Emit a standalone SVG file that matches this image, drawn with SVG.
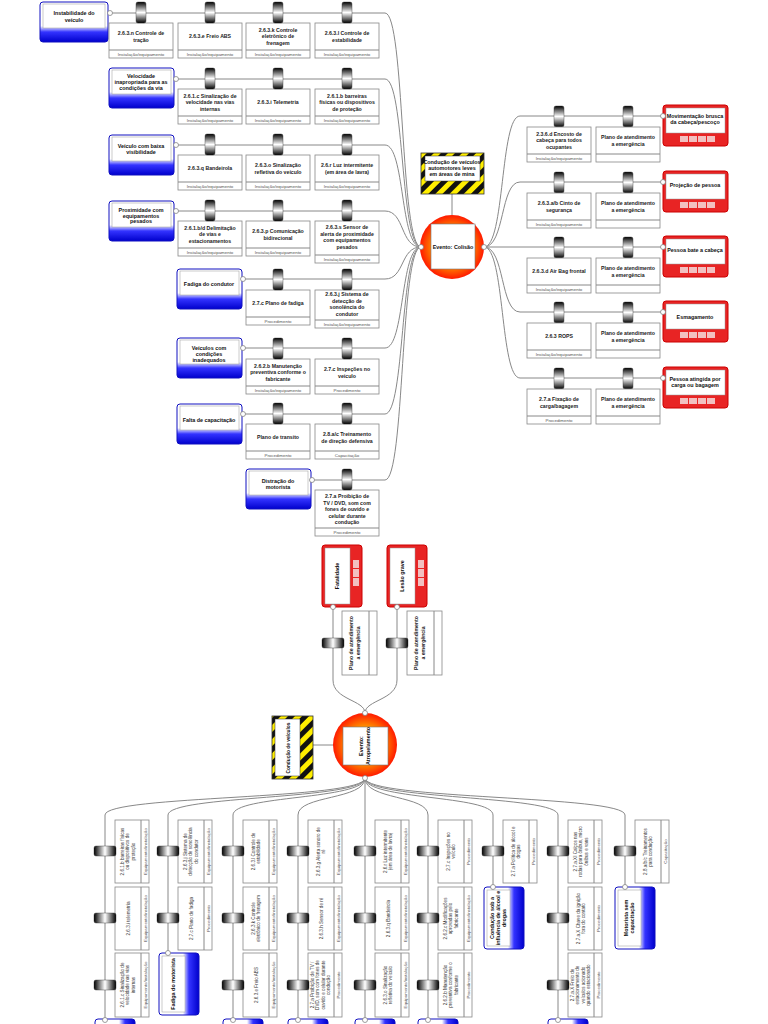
<svg xmlns="http://www.w3.org/2000/svg" xmlns:xlink="http://www.w3.org/1999/xlink" width="768" height="1024" viewBox="0 0 768 1024">
<style>
text{font-family:"Liberation Sans",Arial,sans-serif;}
.bt{font-size:5.2px;font-weight:bold;text-anchor:middle;fill:#222}
.rt{font-size:4.6px;text-anchor:middle;fill:#333}
.st{font-size:4.4px;text-anchor:middle;fill:#555}
.ct{font-size:5.4px;font-weight:bold;text-anchor:middle;fill:#111}
.box{fill:#fff;stroke:#888;stroke-width:0.8}
.ln{fill:none;stroke:#888;stroke-width:1}
.port{fill:#fff;stroke:#777;stroke-width:0.7}
.blue{fill:url(#gb);stroke:#1010c0;stroke-width:1}
.blueh{fill:url(#gbh);stroke:#1010c0;stroke-width:1}
.red{fill:#e82424;stroke:#c00;stroke-width:1}
.sq{fill:#f2c0c0}
.wi{fill:#fff;stroke:#999;stroke-width:0.5}
</style>
<defs>
<linearGradient id="gk" x1="0" y1="0" x2="0" y2="1"><stop offset="0" stop-color="#000"/><stop offset="0.5" stop-color="#fff"/><stop offset="1" stop-color="#000"/></linearGradient>
<linearGradient id="gkh" x1="0" y1="0" x2="1" y2="0"><stop offset="0" stop-color="#000"/><stop offset="0.5" stop-color="#fff"/><stop offset="1" stop-color="#000"/></linearGradient>
<linearGradient id="gb" x1="0" y1="0" x2="0" y2="1"><stop offset="0" stop-color="#fff"/><stop offset="0.6" stop-color="#fff"/><stop offset="0.75" stop-color="#3333ff"/><stop offset="1" stop-color="#0000cc"/></linearGradient>
<linearGradient id="gbh" x1="0" y1="0" x2="1" y2="0"><stop offset="0" stop-color="#fff"/><stop offset="0.6" stop-color="#fff"/><stop offset="0.75" stop-color="#3333ff"/><stop offset="1" stop-color="#0000cc"/></linearGradient>
<radialGradient id="gc"><stop offset="0" stop-color="#ffd000"/><stop offset="0.6" stop-color="#ff8a00"/><stop offset="1" stop-color="#ff1a00"/></radialGradient>
<pattern id="hz" width="10" height="10" patternUnits="userSpaceOnUse" patternTransform="rotate(45)"><rect width="10" height="10" fill="#ffee00"/><rect width="5" height="10" fill="#111"/></pattern>
<rect id="kv" x="-5" y="-10" width="10" height="21" rx="2" fill="url(#gk)" stroke="#333" stroke-width="0.4"/>
<rect id="kh" x="-11" y="-5" width="22" height="10" rx="2" fill="url(#gkh)" stroke="#333" stroke-width="0.4"/>
</defs>

<g id="connectors">
<path class="ln" d="M110,13 H385 C405,13 400,247 421,247"/>
<path class="ln" d="M176,79 H385 C405,79 400,247 421,247"/>
<path class="ln" d="M176,145 H385 C405,145 400,247 421,247"/>
<path class="ln" d="M176,211 H385 C405,211 400,247 421,247"/>
<path class="ln" d="M243,279 H385 C405,279 400,247 421,247"/>
<path class="ln" d="M243,348 H385 C405,348 400,247 421,247"/>
<path class="ln" d="M243,414 H385 C405,414 400,247 421,247"/>
<path class="ln" d="M312,480 H385 C405,480 400,247 421,247"/>
<path class="ln" d="M452,194 V215"/>
<path class="ln" d="M484,247 C505,247 500,116 520,116 H663"/>
<path class="ln" d="M484,247 C505,247 500,182 520,182 H663"/>
<path class="ln" d="M484,247 H663"/>
<path class="ln" d="M484,247 C505,247 500,312 520,312 H663"/>
<path class="ln" d="M484,247 C505,247 500,378 520,378 H663"/>
<path class="ln" d="M333,607 V680 C333,700 365,700 365,713"/>
<path class="ln" d="M397,607 V680 C397,700 365,700 365,713"/>
<path class="ln" d="M313,745 H334"/>
<path class="ln" d="M365,778 C365,800 105,795 105,815 V1020"/>
<path class="ln" d="M365,778 C365,800 168,795 168,815 V953"/>
<path class="ln" d="M365,778 C365,800 233,795 233,815 V1020"/>
<path class="ln" d="M365,778 C365,800 298,795 298,815 V1020"/>
<path class="ln" d="M365,778 V1020"/>
<path class="ln" d="M365,778 C365,800 428,795 428,815 V1020"/>
<path class="ln" d="M365,778 C365,800 493,795 493,815 V887"/>
<path class="ln" d="M365,778 C365,800 558,795 558,815 V1020"/>
<path class="ln" d="M365,778 C365,800 625,795 625,815 V887"/>
</g>

<g id="cause1"><rect class="blue" x="40" y="2" width="68" height="40" rx="3"/><rect class="wi" x="43" y="4" width="62" height="24"/><text class="ct" x="74" y="15">Instabilidade do</text><text class="ct" x="74" y="21.5">veículo</text></g>
<g id="cause2"><rect class="blue" x="109" y="68" width="65" height="40" rx="3"/><rect class="wi" x="112" y="70" width="59" height="24"/><text class="ct" x="141" y="78">Velocidade</text><text class="ct" x="141" y="84">inapropriada para as</text><text class="ct" x="141" y="90">condições da via</text></g>
<g id="cause3"><rect class="blue" x="109" y="135" width="65" height="40" rx="3"/><rect class="wi" x="112" y="137" width="59" height="24"/><text class="ct" x="141" y="148">Veículo com baixa</text><text class="ct" x="141" y="154">visibilidade</text></g>
<g id="cause4"><rect class="blue" x="109" y="201" width="65" height="40" rx="3"/><rect class="wi" x="112" y="203" width="59" height="24"/><text class="ct" x="141" y="212">Proximidade com</text><text class="ct" x="141" y="217.5">equipamentos</text><text class="ct" x="141" y="223">pesados</text></g>
<g id="cause5"><rect class="blue" x="177" y="269" width="65" height="40" rx="3"/><rect class="wi" x="180" y="271" width="59" height="24"/><text class="ct" x="209" y="286">Fadiga do condutor</text></g>
<g id="cause6"><rect class="blue" x="177" y="338" width="65" height="40" rx="3"/><rect class="wi" x="180" y="340" width="59" height="24"/><text class="ct" x="209" y="350">Veículos com</text><text class="ct" x="209" y="356">condições</text><text class="ct" x="209" y="362">inadequados</text></g>
<g id="cause7"><rect class="blue" x="177" y="404" width="65" height="40" rx="3"/><rect class="wi" x="180" y="406" width="59" height="24"/><text class="ct" x="209" y="422">Falta de capacitação</text></g>
<g id="cause8"><rect class="blue" x="246" y="469" width="65" height="40" rx="3"/><rect class="wi" x="249" y="471" width="59" height="24"/><text class="ct" x="278" y="483">Distração do</text><text class="ct" x="278" y="489">motorista</text></g>

<g id="top-barriers">
<g id="b11"><rect class="box" x="109" y="23" width="64" height="35"/><line class="ln" x1="109" y1="50" x2="173" y2="50"/><text class="bt" x="141" y="35"><tspan x="141">2.6.3.n Controle de</tspan><tspan x="141" dy="6.5">tração</tspan></text><text class="st" x="141" y="56">Instalação/equipamento</text></g>
<g id="b12"><rect class="box" x="178" y="23" width="64" height="35"/><line class="ln" x1="178" y1="50" x2="242" y2="50"/><text class="bt" x="210" y="38.3">2.6.3.e Freio ABS</text><text class="st" x="210" y="56">Instalação/equipamento</text></g>
<g id="b13"><rect class="box" x="246" y="23" width="64" height="35"/><line class="ln" x1="246" y1="50" x2="310" y2="50"/><text class="bt" x="278" y="31.8"><tspan x="278">2.6.3.k Controle</tspan><tspan x="278" dy="6.5">eletrônico de</tspan><tspan x="278" dy="6.5">frenagem</tspan></text><text class="st" x="278" y="56">Instalação/equipamento</text></g>
<g id="b14"><rect class="box" x="315" y="23" width="64" height="35"/><line class="ln" x1="315" y1="50" x2="379" y2="50"/><text class="bt" x="347" y="35"><tspan x="347">2.6.3.l Controle de</tspan><tspan x="347" dy="6.5">estabilidade</tspan></text><text class="st" x="347" y="56">Instalação/equipamento</text></g>

<g id="b21"><rect class="box" x="178" y="89" width="64" height="35"/><line class="ln" x1="178" y1="116" x2="242" y2="116"/><text class="bt" x="210" y="97.8"><tspan x="210">2.6.1.c Sinalização de</tspan><tspan x="210" dy="6.5">velocidade nas vias</tspan><tspan x="210" dy="6.5">internas</tspan></text><text class="st" x="210" y="122">Instalação/equipamento</text></g>
<g id="b22"><rect class="box" x="246" y="89" width="64" height="35"/><line class="ln" x1="246" y1="116" x2="310" y2="116"/><text class="bt" x="278" y="104.3">2.6.3.i Telemetria</text><text class="st" x="278" y="122">Instalação/equipamento</text></g>
<g id="b23"><rect class="box" x="315" y="89" width="64" height="35"/><line class="ln" x1="315" y1="116" x2="379" y2="116"/><text class="bt" x="347" y="97.8"><tspan x="347">2.6.1.b barreiras</tspan><tspan x="347" dy="6.5">físicas ou dispositivos</tspan><tspan x="347" dy="6.5">de proteção</tspan></text><text class="st" x="347" y="122">Instalação/equipamento</text></g>

<g id="b31"><rect class="box" x="178" y="155" width="64" height="35"/><line class="ln" x1="178" y1="182" x2="242" y2="182"/><text class="bt" x="210" y="170.3">2.6.3.q Bandeirola</text><text class="st" x="210" y="188">Instalação/equipamento</text></g>
<g id="b32"><rect class="box" x="246" y="155" width="64" height="35"/><line class="ln" x1="246" y1="182" x2="310" y2="182"/><text class="bt" x="278" y="167"><tspan x="278">2.6.3.o Sinalização</tspan><tspan x="278" dy="6.5">refletiva do veículo</tspan></text><text class="st" x="278" y="188">Instalação/equipamento</text></g>
<g id="b33"><rect class="box" x="315" y="155" width="64" height="35"/><line class="ln" x1="315" y1="182" x2="379" y2="182"/><text class="bt" x="347" y="167"><tspan x="347">2.6.r Luz intermitente</tspan><tspan x="347" dy="6.5">(em área de lavra)</tspan></text><text class="st" x="347" y="188">Instalação/equipamento</text></g>

<g id="b41"><rect class="box" x="178" y="221" width="64" height="35"/><line class="ln" x1="178" y1="248" x2="242" y2="248"/><text class="bt" x="210" y="229.8"><tspan x="210">2.6.1.b/d Delimitação</tspan><tspan x="210" dy="6.5">de vias e</tspan><tspan x="210" dy="6.5">estacionamentos</tspan></text><text class="st" x="210" y="254">Instalação/equipamento</text></g>
<g id="b42"><rect class="box" x="246" y="221" width="64" height="35"/><line class="ln" x1="246" y1="248" x2="310" y2="248"/><text class="bt" x="278" y="233"><tspan x="278">2.6.3.p Comunicação</tspan><tspan x="278" dy="6.5">bidirecional</tspan></text><text class="st" x="278" y="254">Instalação/equipamento</text></g>
<g id="b43"><rect class="box" x="315" y="221" width="64" height="42"/><line class="ln" x1="315" y1="255" x2="379" y2="255"/><text class="bt" x="347" y="229"><tspan x="347">2.6.3.s  Sensor de</tspan><tspan x="347" dy="6.5">alerta de proximidade</tspan><tspan x="347" dy="6.5">com equipamentos</tspan><tspan x="347" dy="6.5">pesados</tspan></text><text class="st" x="347" y="261">Instalação/equipamento</text></g>

<g id="b51"><rect class="box" x="246" y="290" width="64" height="35"/><line class="ln" x1="246" y1="317" x2="310" y2="317"/><text class="bt" x="278" y="305.3">2.7.c Plano de fadiga</text><text class="st" x="278" y="323">Procedimento</text></g>
<g id="b52"><rect class="box" x="315" y="290" width="64" height="38"/><line class="ln" x1="315" y1="320" x2="379" y2="320"/><text class="bt" x="347" y="296"><tspan x="347">2.6.3.j Sistema de</tspan><tspan x="347" dy="6.5">detecção de</tspan><tspan x="347" dy="6.5">sonolência do</tspan><tspan x="347" dy="6.5">condutor</tspan></text><text class="st" x="347" y="326">Instalação/equipamento</text></g>

<g id="b61"><rect class="box" x="246" y="359" width="64" height="35"/><line class="ln" x1="246" y1="386" x2="310" y2="386"/><text class="bt" x="278" y="367.8"><tspan x="278">2.6.2.b Manutenção</tspan><tspan x="278" dy="6.5">preventiva conforme o</tspan><tspan x="278" dy="6.5">fabricante</tspan></text><text class="st" x="278" y="392">Instalação/equipamento</text></g>
<g id="b62"><rect class="box" x="315" y="359" width="64" height="35"/><line class="ln" x1="315" y1="386" x2="379" y2="386"/><text class="bt" x="347" y="371"><tspan x="347">2.7.c Inspeções no</tspan><tspan x="347" dy="6.5">veículo</tspan></text><text class="st" x="347" y="392">Procedimento</text></g>

<g id="b71"><rect class="box" x="246" y="424" width="64" height="35"/><line class="ln" x1="246" y1="451" x2="310" y2="451"/><text class="bt" x="278" y="439.3">Plano de transito</text><text class="st" x="278" y="457">Procedimento</text></g>
<g id="b72"><rect class="box" x="315" y="424" width="64" height="35"/><line class="ln" x1="315" y1="451" x2="379" y2="451"/><text class="bt" x="347" y="436"><tspan x="347">2.8.a/c Treinamento</tspan><tspan x="347" dy="6.5">de direção defensiva</tspan></text><text class="st" x="347" y="457">Capacitação</text></g>

<g id="b81"><rect class="box" x="315" y="490" width="64" height="46"/><line class="ln" x1="315" y1="528" x2="379" y2="528"/><text class="bt" x="347" y="498"><tspan x="347">2.7.a Proibição de</tspan><tspan x="347" dy="6.5">TV / DVD, som com</tspan><tspan x="347" dy="6.5">fones de ouvido e</tspan><tspan x="347" dy="6.5">celular durante</tspan><tspan x="347" dy="6.5">condução</tspan></text><text class="st" x="347" y="534">Procedimento</text></g>
</g>

<g id="top-knobs">
<use href="#kv" x="141" y="12"/><use href="#kv" x="210" y="12"/><use href="#kv" x="278" y="12"/><use href="#kv" x="347" y="12"/>
<use href="#kv" x="210" y="78"/><use href="#kv" x="278" y="78"/><use href="#kv" x="347" y="78"/>
<use href="#kv" x="210" y="144"/><use href="#kv" x="278" y="144"/><use href="#kv" x="347" y="144"/>
<use href="#kv" x="210" y="210"/><use href="#kv" x="278" y="210"/><use href="#kv" x="347" y="210"/>
<use href="#kv" x="278" y="279"/><use href="#kv" x="347" y="279"/>
<use href="#kv" x="278" y="348"/><use href="#kv" x="347" y="348"/>
<use href="#kv" x="278" y="413"/><use href="#kv" x="347" y="413"/>
<use href="#kv" x="347" y="479"/>
<use href="#kv" x="559" y="116"/><use href="#kv" x="628" y="116"/>
<use href="#kv" x="559" y="182"/><use href="#kv" x="628" y="182"/>
<use href="#kv" x="559" y="247"/><use href="#kv" x="628" y="247"/>
<use href="#kv" x="559" y="312"/><use href="#kv" x="628" y="312"/>
<use href="#kv" x="559" y="378"/><use href="#kv" x="628" y="378"/>
</g>

<g id="hazard1"><rect x="421" y="153" width="63" height="41" fill="url(#hz)" stroke="#333" stroke-width="0.8"/><rect x="425" y="156" width="55" height="25" fill="#fff" stroke="#333" stroke-width="0.5"/><text class="ct" x="452" y="164">Condução de veículos</text><text class="ct" x="452" y="170">automotores leves</text><text class="ct" x="452" y="176">em áreas de mina</text></g>
<g id="event1"><circle cx="452" cy="247" r="32" fill="url(#gc)"/><rect x="431" y="224" width="44" height="45" fill="#fff" stroke="#777" stroke-width="0.6"/><text class="ct" x="453" y="249">Evento: Colisão</text></g>

<g id="right-barriers">
<g><rect class="box" x="527" y="127" width="64" height="35"/><line class="ln" x1="527" y1="154" x2="591" y2="154"/><text class="bt" x="559" y="135.8"><tspan x="559">2.3.6.d Encosto de</tspan><tspan x="559" dy="6.5">cabeça para todos</tspan><tspan x="559" dy="6.5">ocupantes</tspan></text><text class="st" x="559" y="160">Instalação/equipamento</text></g>
<g><rect class="box" x="527" y="193" width="64" height="35"/><line class="ln" x1="527" y1="220" x2="591" y2="220"/><text class="bt" x="559" y="205"><tspan x="559">2.6.3.a/b Cinto de</tspan><tspan x="559" dy="6.5">segurança</tspan></text><text class="st" x="559" y="226">Instalação/equipamento</text></g>
<g><rect class="box" x="527" y="258" width="64" height="35"/><line class="ln" x1="527" y1="285" x2="591" y2="285"/><text class="bt" x="559" y="273.3">2.6.3.d Air Bag frontal</text><text class="st" x="559" y="291">Instalação/equipamento</text></g>
<g><rect class="box" x="527" y="323" width="64" height="35"/><line class="ln" x1="527" y1="350" x2="591" y2="350"/><text class="bt" x="559" y="338.3">2.6.3 ROPS</text><text class="st" x="559" y="356">Instalação/equipamento</text></g>
<g><rect class="box" x="527" y="389" width="64" height="35"/><line class="ln" x1="527" y1="416" x2="591" y2="416"/><text class="bt" x="559" y="401"><tspan x="559">2.7.a Fixação de</tspan><tspan x="559" dy="6.5">carga/bagagem</tspan></text><text class="st" x="559" y="422">Procedimento</text></g>
<g><rect class="box" x="596" y="127" width="64" height="35"/><line class="ln" x1="596" y1="154" x2="660" y2="154"/><text class="bt" x="628" y="139"><tspan x="628">Plano de atendimento</tspan><tspan x="628" dy="6.5">a emergência</tspan></text></g>
<g><rect class="box" x="596" y="193" width="64" height="35"/><line class="ln" x1="596" y1="220" x2="660" y2="220"/><text class="bt" x="628" y="205"><tspan x="628">Plano de atendimento</tspan><tspan x="628" dy="6.5">a emergência</tspan></text></g>
<g><rect class="box" x="596" y="258" width="64" height="35"/><line class="ln" x1="596" y1="285" x2="660" y2="285"/><text class="bt" x="628" y="270"><tspan x="628">Plano de atendimento</tspan><tspan x="628" dy="6.5">a emergência</tspan></text></g>
<g><rect class="box" x="596" y="323" width="64" height="35"/><line class="ln" x1="596" y1="350" x2="660" y2="350"/><text class="bt" x="628" y="335"><tspan x="628">Plano de atendimento</tspan><tspan x="628" dy="6.5">a emergência</tspan></text></g>
<g><rect class="box" x="596" y="389" width="64" height="35"/><line class="ln" x1="596" y1="416" x2="660" y2="416"/><text class="bt" x="628" y="401"><tspan x="628">Plano de atendimento</tspan><tspan x="628" dy="6.5">a emergência</tspan></text></g>
</g>

<g id="cons1"><rect class="red" x="663" y="105" width="65" height="41" rx="3"/><rect class="wi" x="666" y="108" width="59" height="25"/><rect class="sq" x="680" y="136" width="8" height="6"/><rect class="sq" x="689" y="136" width="8" height="6"/><rect class="sq" x="698" y="136" width="8" height="6"/><rect class="sq" x="707" y="136" width="8" height="6"/><text class="ct" x="695" y="118">Movimentação brusca</text><text class="ct" x="695" y="124">da cabeça/pescoço</text></g>
<g id="cons2"><rect class="red" x="663" y="171" width="65" height="41" rx="3"/><rect class="wi" x="666" y="174" width="59" height="25"/><rect class="sq" x="680" y="202" width="8" height="6"/><rect class="sq" x="689" y="202" width="8" height="6"/><rect class="sq" x="698" y="202" width="8" height="6"/><rect class="sq" x="707" y="202" width="8" height="6"/><text class="ct" x="695" y="187">Projeção de pessoa</text></g>
<g id="cons3"><rect class="red" x="663" y="236" width="65" height="41" rx="3"/><rect class="wi" x="666" y="239" width="59" height="25"/><rect class="sq" x="680" y="267" width="8" height="6"/><rect class="sq" x="689" y="267" width="8" height="6"/><rect class="sq" x="698" y="267" width="8" height="6"/><rect class="sq" x="707" y="267" width="8" height="6"/><text class="ct" x="695" y="252">Pessoa bate a cabeça</text></g>
<g id="cons4"><rect class="red" x="663" y="301" width="65" height="41" rx="3"/><rect class="wi" x="666" y="304" width="59" height="25"/><rect class="sq" x="680" y="332" width="8" height="6"/><rect class="sq" x="689" y="332" width="8" height="6"/><rect class="sq" x="698" y="332" width="8" height="6"/><rect class="sq" x="707" y="332" width="8" height="6"/><text class="ct" x="695" y="319">Esmagamento</text></g>
<g id="cons5"><rect class="red" x="663" y="367" width="65" height="41" rx="3"/><rect class="wi" x="666" y="370" width="59" height="25"/><rect class="sq" x="680" y="398" width="8" height="6"/><rect class="sq" x="689" y="398" width="8" height="6"/><rect class="sq" x="698" y="398" width="8" height="6"/><rect class="sq" x="707" y="398" width="8" height="6"/><text class="ct" x="695" y="381">Pessoa atingida por</text><text class="ct" x="695" y="387">carga ou bagagem</text></g>

<g id="ports-top">
<circle class="port" cx="110" cy="13" r="2.5"/><circle class="port" cx="176" cy="79" r="2.5"/><circle class="port" cx="176" cy="145" r="2.5"/><circle class="port" cx="176" cy="211" r="2.5"/><circle class="port" cx="243" cy="279" r="2.5"/><circle class="port" cx="243" cy="348" r="2.5"/><circle class="port" cx="243" cy="414" r="2.5"/><circle class="port" cx="312" cy="480" r="2.5"/>
<circle class="port" cx="421" cy="247" r="2.5"/><circle class="port" cx="484" cy="247" r="2.5"/>
<circle class="port" cx="663" cy="116" r="2.5"/><circle class="port" cx="663" cy="182" r="2.5"/><circle class="port" cx="663" cy="247" r="2.5"/><circle class="port" cx="663" cy="312" r="2.5"/><circle class="port" cx="663" cy="378" r="2.5"/>
</g>

<g id="fatal"><rect class="red" x="322" y="545" width="40" height="62" rx="3"/><rect class="wi" x="325" y="548" width="25" height="56"/><rect class="sq" x="353" y="560" width="6" height="8"/><rect class="sq" x="353" y="569" width="6" height="8"/><rect class="sq" x="353" y="578" width="6" height="8"/><text class="ct" x="337" y="576" transform="rotate(-90 337 576)" dy="2">Fatalidade</text></g>
<g id="lesao"><rect class="red" x="387" y="545" width="40" height="62" rx="3"/><rect class="wi" x="390" y="548" width="25" height="56"/><rect class="sq" x="418" y="560" width="6" height="8"/><rect class="sq" x="418" y="569" width="6" height="8"/><rect class="sq" x="418" y="578" width="6" height="8"/><text class="ct" x="402" y="576" transform="rotate(-90 402 576)" dy="2">Lesão grave</text></g>
<g id="pa1"><rect class="box" x="342" y="611" width="35" height="64"/><line class="ln" x1="369" y1="611" x2="369" y2="675"/><text class="bt" transform="rotate(-90 355 643)" x="355" y="641"><tspan x="355">Plano de atendimento</tspan><tspan x="355" dy="6.5">a emergência</tspan></text></g>
<g id="pa2"><rect class="box" x="407" y="611" width="35" height="64"/><line class="ln" x1="434" y1="611" x2="434" y2="675"/><text class="bt" transform="rotate(-90 420 643)" x="420" y="641"><tspan x="420">Plano de atendimento</tspan><tspan x="420" dy="6.5">a emergência</tspan></text></g>
<use href="#kh" x="333" y="643"/><use href="#kh" x="397" y="643"/>

<g id="hazard2"><rect x="272" y="716" width="41" height="63" fill="url(#hz)" stroke="#333" stroke-width="0.8"/><rect x="275" y="719" width="25" height="57" fill="#fff" stroke="#333" stroke-width="0.5"/><text class="ct" style="font-size:4.8px" transform="rotate(-90 288 748)" x="288" y="750">Condução de veículos</text></g>
<g id="event2"><circle cx="365" cy="745" r="32" fill="url(#gc)"/><rect x="343" y="727" width="45" height="38" fill="#fff" stroke="#777" stroke-width="0.6"/><text class="ct" transform="rotate(-90 365 746)" x="365" y="744"><tspan x="365">Evento:</tspan><tspan x="365" dy="6.5">Atropelamento</tspan></text></g>

<g id="bottom-barriers">
<g><rect class="box" x="115" y="820" width="34" height="63"/><line class="ln" x1="141" y1="820" x2="141" y2="883"/><text class="rt" transform="rotate(-90 128 851.5)" x="128" y="847"><tspan x="128">2.6.1.b barreiras físicas</tspan><tspan x="128" dy="5.6">ou dispositivos de</tspan><tspan x="128" dy="5.6">proteção</tspan></text><text class="st" transform="rotate(-90 145 851.5)" x="145" y="853">Equipamento/instalação</text></g>
<g><rect class="box" x="115" y="887" width="34" height="63"/><line class="ln" x1="141" y1="887" x2="141" y2="950"/><text class="rt" transform="rotate(-90 128 918.5)" x="128" y="920">2.6.3.i telemetria</text><text class="st" transform="rotate(-90 145 918.5)" x="145" y="920">Equipamento/instalação</text></g>
<g><rect class="box" x="115" y="953" width="34" height="64"/><line class="ln" x1="141" y1="953" x2="141" y2="1017"/><text class="rt" transform="rotate(-90 128 985)" x="128" y="980.5"><tspan x="128">2.6.1.c Sinalização de</tspan><tspan x="128" dy="5.6">velocidade nas vias</tspan><tspan x="128" dy="5.6">internas</tspan></text><text class="st" transform="rotate(-90 145 985)" x="145" y="986.5">Equipamento/instalação</text></g>
<g><rect class="box" x="178" y="820" width="34" height="63"/><line class="ln" x1="204" y1="820" x2="204" y2="883"/><text class="rt" transform="rotate(-90 191 851.5)" x="191" y="847"><tspan x="191">2.6.3.j Sistema de</tspan><tspan x="191" dy="5.6">detecção de sonolência</tspan><tspan x="191" dy="5.6">do condutor</tspan></text><text class="st" transform="rotate(-90 208 851.5)" x="208" y="853">Equipamento/instalação</text></g>
<g><rect class="box" x="178" y="887" width="34" height="63"/><line class="ln" x1="204" y1="887" x2="204" y2="950"/><text class="rt" transform="rotate(-90 191 918.5)" x="191" y="920">2.7.c Plano de fadiga</text><text class="st" transform="rotate(-90 208 918.5)" x="208" y="920">Procedimento</text></g>
<g><rect class="box" x="243" y="820" width="34" height="63"/><line class="ln" x1="269" y1="820" x2="269" y2="883"/><text class="rt" transform="rotate(-90 256 851.5)" x="256" y="850"><tspan x="256">2.6.3.l Controle de</tspan><tspan x="256" dy="5.6">estabilidade</tspan></text><text class="st" transform="rotate(-90 273 851.5)" x="273" y="853">Equipamento/instalação</text></g>
<g><rect class="box" x="243" y="887" width="34" height="63"/><line class="ln" x1="269" y1="887" x2="269" y2="950"/><text class="rt" transform="rotate(-90 256 918.5)" x="256" y="917"><tspan x="256">2.6.3.k Controle</tspan><tspan x="256" dy="5.6">eletrônico de frenagem</tspan></text><text class="st" transform="rotate(-90 273 918.5)" x="273" y="920">Equipamento/instalação</text></g>
<g><rect class="box" x="243" y="953" width="34" height="64"/><line class="ln" x1="269" y1="953" x2="269" y2="1017"/><text class="rt" transform="rotate(-90 256 985)" x="256" y="986.5">2.6.3.e Freio ABS</text><text class="st" transform="rotate(-90 273 985)" x="273" y="986.5">Equipamento/instalação</text></g>
<g><rect class="box" x="308" y="820" width="34" height="63"/><line class="ln" x1="334" y1="820" x2="334" y2="883"/><text class="rt" transform="rotate(-90 321 851.5)" x="321" y="850"><tspan x="321">2.6.3.g Alerta sonoro de</tspan><tspan x="321" dy="5.6">ré</tspan></text><text class="st" transform="rotate(-90 338 851.5)" x="338" y="853">Equipamento/instalação</text></g>
<g><rect class="box" x="308" y="887" width="34" height="63"/><line class="ln" x1="334" y1="887" x2="334" y2="950"/><text class="rt" transform="rotate(-90 321 918.5)" x="321" y="920">2.6.3.h Sensor de ré</text><text class="st" transform="rotate(-90 338 918.5)" x="338" y="920">Equipamento/instalação</text></g>
<g><rect class="box" x="308" y="953" width="34" height="64"/><line class="ln" x1="334" y1="953" x2="334" y2="1017"/><text class="rt" transform="rotate(-90 321 985)" x="321" y="978"><tspan x="321">2.7.a Proibição de TV /</tspan><tspan x="321" dy="5.3">DVD, som com fones de</tspan><tspan x="321" dy="5.3">ouvido e celular durante</tspan><tspan x="321" dy="5.3">condução</tspan></text><text class="st" transform="rotate(-90 338 985)" x="338" y="986.5">Procedimento</text></g>
<g><rect class="box" x="375" y="820" width="34" height="63"/><line class="ln" x1="401" y1="820" x2="401" y2="883"/><text class="rt" transform="rotate(-90 388 851.5)" x="388" y="850"><tspan x="388">2.6.r Luz intermitente</tspan><tspan x="388" dy="5.6">(em área de lavra)</tspan></text><text class="st" transform="rotate(-90 405 851.5)" x="405" y="853">Equipamento/instalação</text></g>
<g><rect class="box" x="375" y="887" width="34" height="63"/><line class="ln" x1="401" y1="887" x2="401" y2="950"/><text class="rt" transform="rotate(-90 388 918.5)" x="388" y="920">2.6.3.q Bandeirola</text><text class="st" transform="rotate(-90 405 918.5)" x="405" y="920">Equipamento/instalação</text></g>
<g><rect class="box" x="375" y="953" width="34" height="64"/><line class="ln" x1="401" y1="953" x2="401" y2="1017"/><text class="rt" transform="rotate(-90 388 985)" x="388" y="983.5"><tspan x="388">2.6.3.o Sinalização</tspan><tspan x="388" dy="5.6">refletiva do veículo</tspan></text><text class="st" transform="rotate(-90 405 985)" x="405" y="986.5">Equipamento/instalação</text></g>
<g><rect class="box" x="438" y="820" width="34" height="63"/><line class="ln" x1="464" y1="820" x2="464" y2="883"/><text class="rt" transform="rotate(-90 451 851.5)" x="451" y="850"><tspan x="451">2.7.c Inspeções no</tspan><tspan x="451" dy="5.6">veículo</tspan></text><text class="st" transform="rotate(-90 468 851.5)" x="468" y="853">Procedimento</text></g>
<g><rect class="box" x="438" y="887" width="34" height="63"/><line class="ln" x1="464" y1="887" x2="464" y2="950"/><text class="rt" transform="rotate(-90 451 918.5)" x="451" y="914"><tspan x="451">2.6.2.c Modificações</tspan><tspan x="451" dy="5.6">aprovadas pelo</tspan><tspan x="451" dy="5.6">fabricante</tspan></text><text class="st" transform="rotate(-90 468 918.5)" x="468" y="920">Equipamento/instalação</text></g>
<g><rect class="box" x="438" y="953" width="34" height="64"/><line class="ln" x1="464" y1="953" x2="464" y2="1017"/><text class="rt" transform="rotate(-90 451 985)" x="451" y="980.5"><tspan x="451">2.6.2.b Manutenção</tspan><tspan x="451" dy="5.6">preventiva conforme o</tspan><tspan x="451" dy="5.6">fabricante</tspan></text><text class="st" transform="rotate(-90 468 985)" x="468" y="986.5">Procedimento</text></g>
<g><rect class="box" x="503" y="820" width="34" height="63"/><line class="ln" x1="529" y1="820" x2="529" y2="883"/><text class="rt" transform="rotate(-90 516 851.5)" x="516" y="850"><tspan x="516">2.7.a Política de álcool e</tspan><tspan x="516" dy="5.6">drogas</tspan></text><text class="st" transform="rotate(-90 533 851.5)" x="533" y="853">Procedimento</text></g>
<g><rect class="box" x="568" y="820" width="34" height="63"/><line class="ln" x1="594" y1="820" x2="594" y2="883"/><text class="rt" transform="rotate(-90 581 851.5)" x="581" y="847"><tspan x="581">2.7.a.XI Calços nas</tspan><tspan x="581" dy="5.6">rodas para ônibus, micro</tspan><tspan x="581" dy="5.6">ônibus e vans</tspan></text><text class="st" transform="rotate(-90 598 851.5)" x="598" y="853">Procedimento</text></g>
<g><rect class="box" x="568" y="887" width="34" height="63"/><line class="ln" x1="594" y1="887" x2="594" y2="950"/><text class="rt" transform="rotate(-90 581 918.5)" x="581" y="917"><tspan x="581">2.7.a.X Chave da ignição</tspan><tspan x="581" dy="5.6">fora do contato</tspan></text><text class="st" transform="rotate(-90 598 918.5)" x="598" y="920">Procedimento</text></g>
<g><rect class="box" x="568" y="953" width="34" height="64"/><line class="ln" x1="594" y1="953" x2="594" y2="1017"/><text class="rt" transform="rotate(-90 581 985)" x="581" y="978"><tspan x="581">2.7.a.X Freio de</tspan><tspan x="581" dy="5.3">estacionamento de</tspan><tspan x="581" dy="5.3">veículos acionado</tspan><tspan x="581" dy="5.3">quando estacionado</tspan></text><text class="st" transform="rotate(-90 598 985)" x="598" y="986.5">Procedimento</text></g>
<g><rect class="box" x="635" y="820" width="34" height="63"/><line class="ln" x1="661" y1="820" x2="661" y2="883"/><text class="rt" transform="rotate(-90 648 851.5)" x="648" y="850"><tspan x="648">2.8.a/b/c Treinamentos</tspan><tspan x="648" dy="5.6">para condução</tspan></text><text class="st" transform="rotate(-90 665 851.5)" x="665" y="853">Capacitação</text></g>
</g>

<g id="bottom-knobs">
<use href="#kh" x="105" y="851"/><use href="#kh" x="105" y="918"/><use href="#kh" x="105" y="985"/>
<use href="#kh" x="168" y="851"/><use href="#kh" x="168" y="918"/>
<use href="#kh" x="233" y="851"/><use href="#kh" x="233" y="918"/><use href="#kh" x="233" y="985"/>
<use href="#kh" x="298" y="851"/><use href="#kh" x="298" y="918"/><use href="#kh" x="298" y="985"/>
<use href="#kh" x="365" y="851"/><use href="#kh" x="365" y="918"/><use href="#kh" x="365" y="985"/>
<use href="#kh" x="428" y="851"/><use href="#kh" x="428" y="918"/><use href="#kh" x="428" y="985"/>
<use href="#kh" x="493" y="851"/>
<use href="#kh" x="558" y="851"/><use href="#kh" x="558" y="918"/><use href="#kh" x="558" y="985"/>
<use href="#kh" x="625" y="851"/>
</g>

<g id="bottom-causes">
<g><rect class="blueh" x="95" y="1019" width="40" height="62" rx="3"/></g>
<g><rect class="blueh" x="159" y="953" width="40" height="62" rx="3"/><rect class="wi" x="162" y="956" width="23" height="56"/><text class="ct" transform="rotate(-90 173 984)" x="173" y="986">Fadiga do motorista</text></g>
<g><rect class="blueh" x="223" y="1019" width="40" height="62" rx="3"/></g>
<g><rect class="blueh" x="288" y="1019" width="40" height="62" rx="3"/></g>
<g><rect class="blueh" x="355" y="1019" width="40" height="62" rx="3"/></g>
<g><rect class="blueh" x="418" y="1019" width="40" height="62" rx="3"/></g>
<g><rect class="blueh" x="484" y="887" width="40" height="62" rx="3"/><rect class="wi" x="487" y="890" width="23" height="56"/><text class="ct" transform="rotate(-90 498 918)" x="498" y="914"><tspan x="498">Condução sob a</tspan><tspan x="498" dy="5.8">influência de álcool e</tspan><tspan x="498" dy="5.8">drogas</tspan></text></g>
<g><rect class="blueh" x="548" y="1019" width="40" height="62" rx="3"/></g>
<g><rect class="blueh" x="615" y="887" width="40" height="62" rx="3"/><rect class="wi" x="618" y="890" width="23" height="56"/><text class="ct" transform="rotate(-90 629 918)" x="629" y="917"><tspan x="629">Motorista sem</tspan><tspan x="629" dy="5.8">capacitação</tspan></text></g>
</g>

<g id="ports-bottom">
<circle class="port" cx="333" cy="607" r="2.5"/><circle class="port" cx="397" cy="607" r="2.5"/><circle class="port" cx="365" cy="713" r="2.5"/><circle class="port" cx="365" cy="778" r="2.5"/>
<circle class="port" cx="168" cy="953" r="2.5"/><circle class="port" cx="493" cy="887" r="2.5"/><circle class="port" cx="625" cy="887" r="2.5"/>
<circle class="port" cx="105" cy="1020" r="2.5"/><circle class="port" cx="233" cy="1020" r="2.5"/><circle class="port" cx="298" cy="1020" r="2.5"/><circle class="port" cx="365" cy="1020" r="2.5"/><circle class="port" cx="428" cy="1020" r="2.5"/><circle class="port" cx="558" cy="1020" r="2.5"/>
</g>
</svg>
